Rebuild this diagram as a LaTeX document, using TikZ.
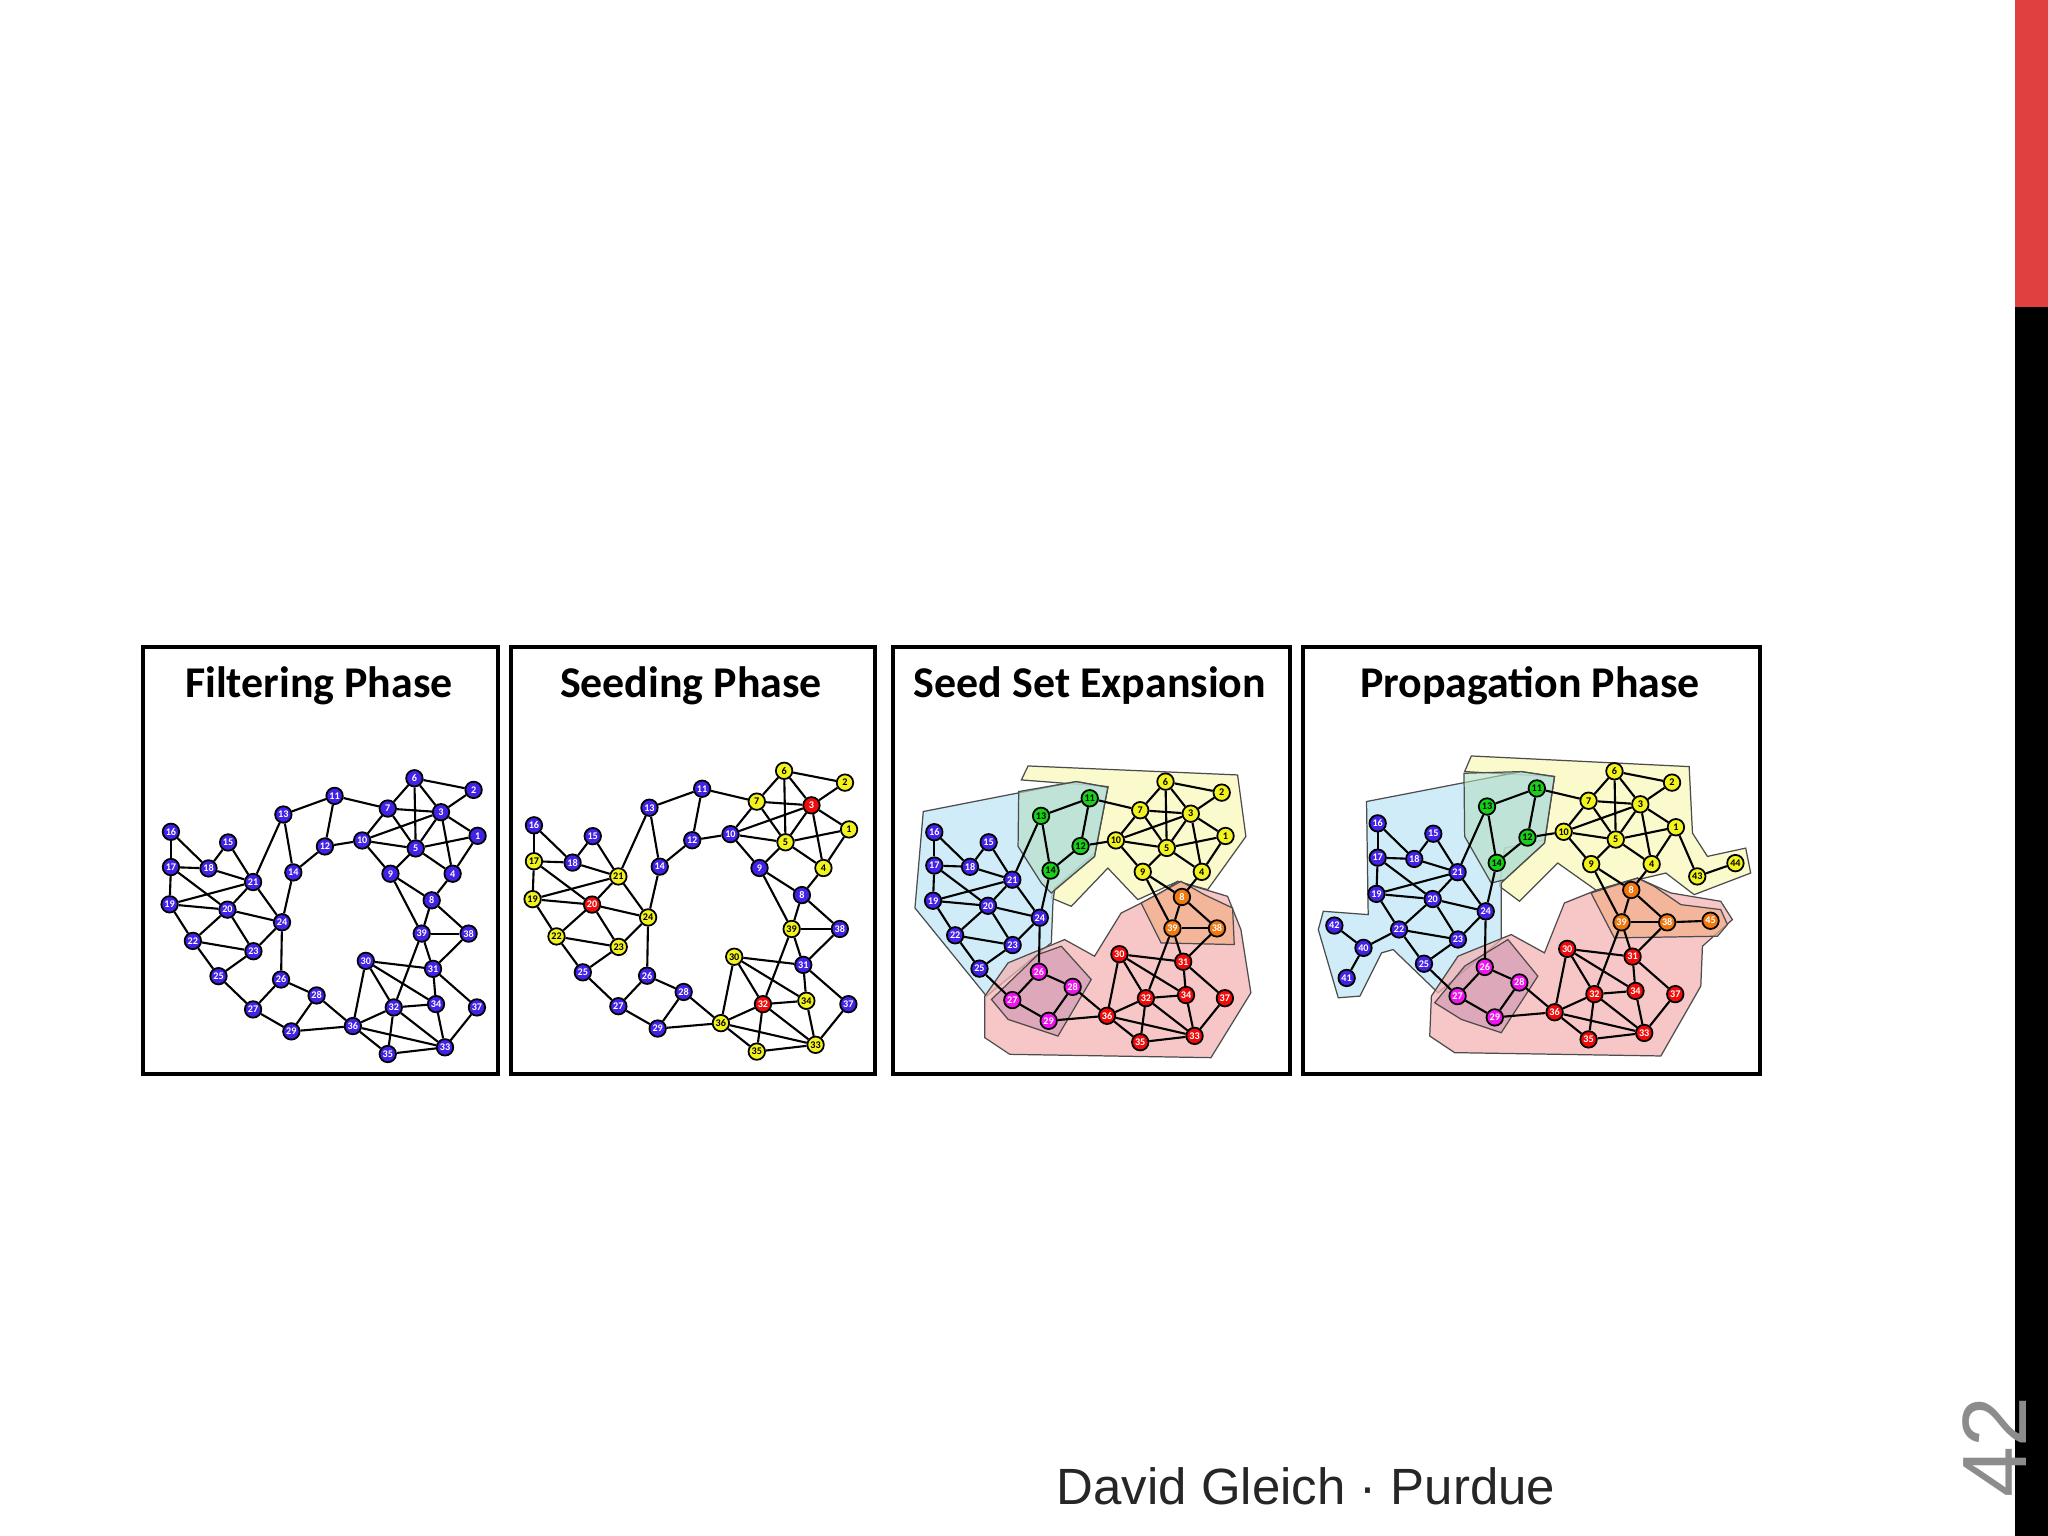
\documentclass[tikz,border=0pt]{standalone}
\usepackage{fontspec}
\setmainfont{Carlito}
\setsansfont{Liberation Sans}
\usetikzlibrary{backgrounds}
\pgfdeclarelayer{hull}\pgfdeclarelayer{edge}
\pgfsetlayers{hull,edge,main}
\definecolor{nblue}{HTML}{4222E6}
\definecolor{nyellow}{HTML}{F2F21E}
\definecolor{nred}{HTML}{F00A0A}
\definecolor{ngreen}{HTML}{18D018}
\definecolor{norange}{HTML}{F0780F}
\definecolor{nmag}{HTML}{F012F0}
\definecolor{hblue}{HTML}{BFE6F6}
\definecolor{hyellow}{HTML}{F8F8BC}
\definecolor{hgreen}{HTML}{B6DEC0}
\definecolor{hred}{HTML}{F4B4B4}
\definecolor{horange}{HTML}{F2B088}
\definecolor{hmag}{HTML}{C890B0}
\definecolor{barred}{HTML}{E04040}
\tikzset{
 gn/.style={circle,draw=black,line width=0.5pt,inner sep=0pt,minimum size=0.165cm,font=\fontsize{2.9}{2.9}\selectfont\bfseries},
 ge/.style={line width=0.6pt,black},
 hl/.style={draw=black!70,line width=0.35pt,fill opacity=0.75},
 frame/.style={draw=black,line width=1.3pt},
 ttl/.style={font=\fontsize{12.5}{13}\selectfont\bfseries,anchor=center}
}
\newcommand\setcol[4]{\foreach \n in {#4}{\expandafter\xdef\csname nf#1-\n\endcsname{#2}\expandafter\xdef\csname nt#1-\n\endcsname{#3}}}
\newcommand\drawgraph[1]{%
 \foreach \n/\x/\y in {1/1012/258,2/1000/120,3/902/187,4/937/372,5/826/296,6/822/85,7/742/176,8/874/452,9/750/372,10/665/272,11/582/138,12/553/290,13/428/194,14/458/368,15/262/278,16/90/246,17/90/352,18/203/356,19/86/464,20/260/480,21/337/397,22/156/574,23/338/605,24/424/518,25/233/680,26/421/690,27/337/780,28/528/738,29/452/846,30/676/634,31/878/658,32/760/774,33/914/894,34/887/764,35/742/914,36/637/830,37/1010/774,38/985/552,39/844/552}
 {\node[gn,fill=\csname nf#1-\n\endcsname,text=\csname nt#1-\n\endcsname] (#1-\n) at (\x,\y) {\n};}
 \begin{pgfonlayer}{edge}
 \foreach \a/\b in {6/2,6/7,6/3,6/5,2/3,7/3,7/10,7/5,3/10,3/5,3/1,3/4,1/5,1/4,10/5,10/9,10/12,5/4,5/9,4/8,9/8,9/39,8/39,8/38,39/38,39/31,39/32,38/31,11/7,11/13,11/12,12/14,13/21,13/14,14/24,16/17,16/18,15/18,15/21,17/18,17/19,17/20,18/21,19/21,19/20,19/22,21/20,21/24,20/24,20/22,20/23,22/23,22/25,23/24,23/25,25/27,24/26,26/27,26/28,27/29,28/29,28/36,29/36,30/36,30/31,30/32,30/34,31/34,31/37,32/34,32/36,32/35,32/33,34/33,36/35,36/33,35/33,37/33}
 {\draw[ge] (#1-\a) -- (#1-\b);}
 \end{pgfonlayer}}
\begin{document}
\begin{tikzpicture}
\useasboundingbox (0,0) rectangle (20.48,-15.36);
\fill[barred] (20.15,0) rectangle (20.48,-3.07);
\fill[black] (20.15,-3.07) rectangle (20.48,-15.36);
\node[rotate=90,text=black!45,font=\sffamily\fontsize{26}{26}\selectfont] (pg) at (19.95,-14.47) {42};
\node[font=\sffamily\fontsize{14.5}{15}\selectfont,text=black!85] (ft) at (13.06,-14.86) {David Gleich · Purdue};
% colours
\setcol{p1}{nblue}{white}{1,...,39}
\setcol{p2}{nblue}{white}{1,...,39}
\setcol{p2}{nyellow}{black}{6,2,7,5,1,4,17,19,21,22,23,24,39,30,34,36,35,33}
\setcol{p2}{nred}{white}{3,20,32}
\setcol{p3}{nblue}{white}{15,16,17,18,19,20,21,22,23,24,25,40,41,42}
\setcol{p3}{ngreen}{black}{11,12,13,14}
\setcol{p3}{nyellow}{black}{1,2,3,4,5,6,7,9,10,43,44}
\setcol{p3}{norange}{white}{8,38,39,45}
\setcol{p3}{nmag}{white}{26,27,28,29}
\setcol{p3}{nred}{white}{30,31,32,33,34,35,36,37}
\setcol{p4}{nblue}{white}{15,16,17,18,19,20,21,22,23,24,25,40,41,42}
\setcol{p4}{ngreen}{black}{11,12,13,14}
\setcol{p4}{nyellow}{black}{1,2,3,4,5,6,7,9,10,43,44}
\setcol{p4}{norange}{white}{8,38,39,45}
\setcol{p4}{nmag}{white}{26,27,28,29}
\setcol{p4}{nred}{white}{30,31,32,33,34,35,36,37}
% frames and titles
\draw[frame] (1.43,-6.47) rectangle (4.98,-10.74);
\draw[frame] (5.11,-6.47) rectangle (8.75,-10.74);
\draw[frame] (8.93,-6.47) rectangle (12.90,-10.74);
\draw[frame] (13.03,-6.47) rectangle (17.60,-10.74);
\node[ttl] (t1) at (3.19,-6.86) {Filtering Phase};
\node[ttl] (t2) at (6.91,-6.86) {Seeding Phase};
\node[ttl] (t3) at (10.90,-6.86) {Seed Set Expansion};
\node[ttl] (t4) at (15.30,-6.86) {Propagation Phase};
% panel 1
\begin{scope}[shift={(1.41,-7.50)},x=0.0033333cm,y=-0.0033333cm]
\drawgraph{p1}
\end{scope}
% panel 2
\begin{scope}[shift={(5.032,-7.420)},x=0.0034167cm,y=-0.0033867cm]
\drawgraph{p2}
\end{scope}
% panel 3 hulls
\begin{pgfonlayer}{hull}
\begin{scope}[shift={(8.95,-7.50)},x=0.0033333cm,y=-0.0033333cm]
\filldraw[hl,fill=hyellow] (400,48)--(1030,75)--(1055,260)--(940,420)--(850,395)--(730,450)--(640,355)--(530,470)--(470,445)--(480,415)--(600,310)--(640,110)--(380,90)--cycle;
\filldraw[hl,fill=hblue] (85,185)--(545,95)--(640,112)--(600,320)--(480,420)--(475,455)--(470,580)--(275,740)--(60,475)--cycle;
\filldraw[hl,fill=hgreen,fill opacity=0.6] (372,125)--(545,95)--(640,112)--(600,320)--(470,430)--(440,400)--(370,290)--cycle;
\filldraw[hl,fill=hred] (270,740)--(340,640)--(510,570)--(600,620)--(680,490)--(800,430)--(850,395)--(1000,440)--(1040,540)--(1070,730)--(950,925)--(345,915)--(270,865)--cycle;
\filldraw[hl,fill=horange,fill opacity=0.7] (740,460)--(860,395)--(930,435)--(1015,475)--(1020,585)--(800,580)--cycle;
\filldraw[hl,fill=hmag,fill opacity=0.55] (290,750)--(430,615)--(500,590)--(590,690)--(490,860)--(340,810)--cycle;
\end{scope}
% panel 4 hulls
\begin{scope}[shift={(13.05,-7.40)},x=0.0033333cm,y=-0.0033333cm]
\filldraw[hl,fill=hyellow] (500,48)--(1155,80)--(1165,280)--(1210,350)--(1325,325)--(1340,400)--(1170,465)--(1085,400)--(1000,420)--(880,455)--(760,370)--(645,485)--(585,440)--(600,325)--(720,300)--(750,110)--(480,95)--cycle;
\filldraw[hl,fill=hblue] (185,185)--(650,95)--(750,110)--(720,310)--(600,420)--(590,430)--(590,600)--(400,760)--(265,630)--(230,640)--(165,770)--(100,775)--(40,570)--(55,515)--(190,525)--cycle;
\filldraw[hl,fill=hgreen,fill opacity=0.6] (478,100)--(650,95)--(750,110)--(720,310)--(600,420)--(560,430)--(480,290)--cycle;
\filldraw[hl,fill=hred] (375,890)--(380,770)--(460,650)--(620,585)--(720,640)--(780,490)--(880,450)--(1000,415)--(1100,460)--(1250,485)--(1285,540)--(1195,620)--(1190,740)--(1070,950)--(450,940)--cycle;
\filldraw[hl,fill=horange,fill opacity=0.7] (860,460)--(1000,415)--(1050,440)--(1130,495)--(1250,510)--(1270,555)--(1240,590)--(930,595)--cycle;
\filldraw[hl,fill=hmag,fill opacity=0.55] (390,790)--(480,680)--(610,600)--(700,710)--(590,880)--(470,840)--cycle;
\end{scope}
\end{pgfonlayer}
% panel 3
\begin{scope}[shift={(9.059,-7.549)},x=0.0031567cm,y=-0.0031433cm]
\drawgraph{p3}
\end{scope}
% panel 4
\begin{scope}[shift={(13.486,-7.438)},x=0.00323cm,y=-0.00324cm]
\drawgraph{p4}
\foreach \n/\x/\y in {42/-44/562,40/46/631,41/-6/724,43/1078/410,44/1196/369,45/1119/547}
 {\node[gn,fill=\csname nfp4-\n\endcsname,text=\csname ntp4-\n\endcsname] (p4-\n) at (\x,\y) {\n};}
\begin{pgfonlayer}{edge}
\foreach \a/\b in {42/40,40/41,40/22,1/43,43/44,38/45}
 {\draw[ge] (p4-\a) -- (p4-\b);}
\end{pgfonlayer}
\end{scope}
\end{tikzpicture}
\end{document}
